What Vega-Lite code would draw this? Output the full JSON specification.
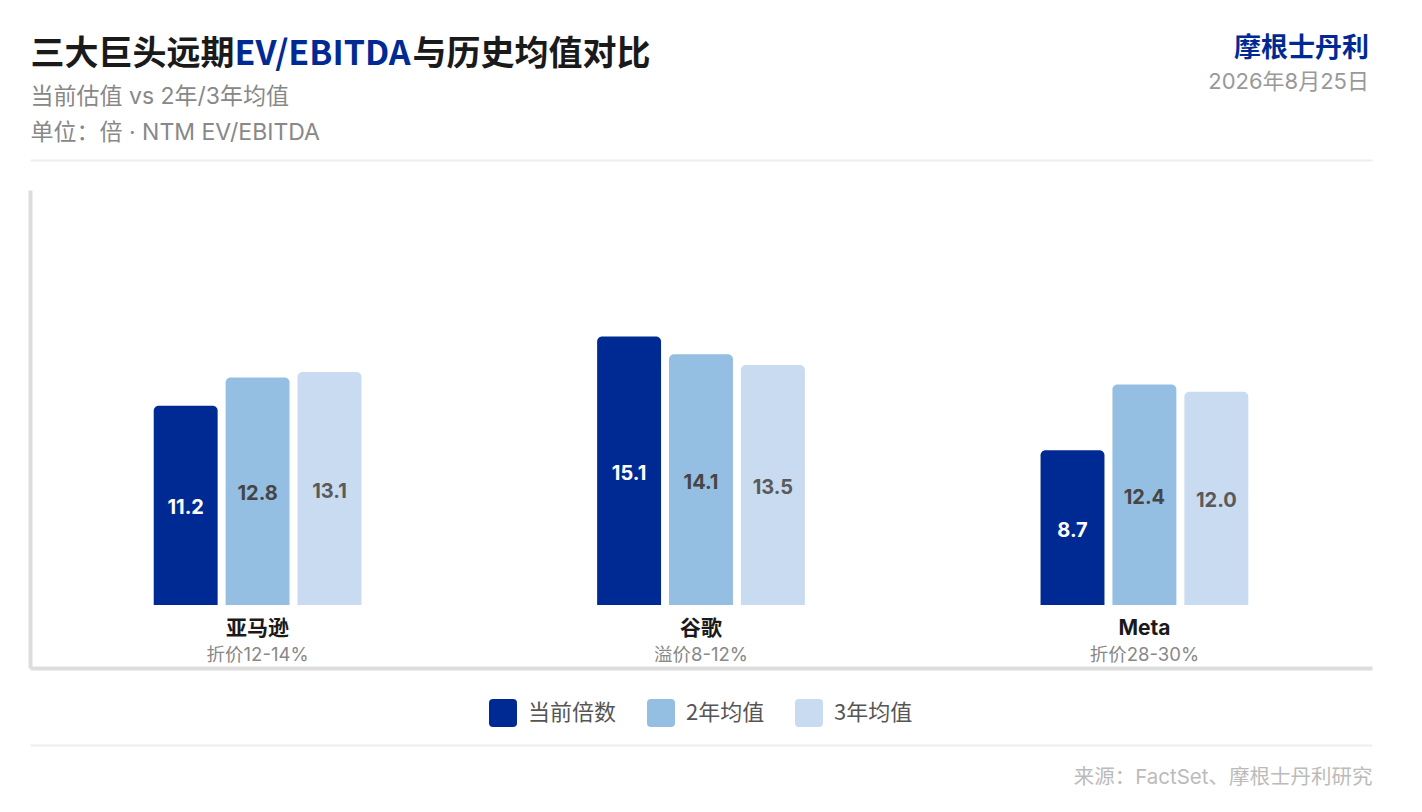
{
  "$schema": "https://vega.github.io/schema/vega-lite/v6.json",
  "width": 1342,
  "height": 478,
  "autosize": "none",
  "padding": {"left": 30, "top": 190, "right": 50, "bottom": 144},
  "background": "#ffffff",
  "config": {
    "font": "Noto Sans CJK SC",
    "view": {"stroke": null},
    "axis": {"ticks": false, "labels": false, "grid": false}
  },
  "title": {
    "text": "摩根士丹利",
    "subtitle": "2026年8月25日",
    "anchor": "end",
    "frame": "group",
    "dx": -3,
    "fontSize": 27,
    "fontWeight": "bold",
    "color": "#002A93",
    "subtitleFont": "Inter, Noto Sans CJK SC",
    "subtitleFontSize": 22,
    "subtitleColor": "#999999",
    "subtitlePadding": 9,
    "offset": -57
  },
  "datasets": {
    "bars": [
      {"company": "亚马逊", "series": "当前倍数", "value": 11.2},
      {"company": "亚马逊", "series": "2年均值", "value": 12.8},
      {"company": "亚马逊", "series": "3年均值", "value": 13.1},
      {"company": "谷歌", "series": "当前倍数", "value": 15.1},
      {"company": "谷歌", "series": "2年均值", "value": 14.1},
      {"company": "谷歌", "series": "3年均值", "value": 13.5},
      {"company": "Meta", "series": "当前倍数", "value": 8.7},
      {"company": "Meta", "series": "2年均值", "value": 12.4},
      {"company": "Meta", "series": "3年均值", "value": 12.0}
    ],
    "companies": [
      {"company": "亚马逊", "note": "折价12-14%"},
      {"company": "谷歌", "note": "溢价8-12%"},
      {"company": "Meta", "note": "折价28-30%"}
    ]
  },
  "layer": [
    {
      "data": {"name": "bars"},
      "mark": {"type": "bar", "cornerRadiusTopLeft": 5, "cornerRadiusTopRight": 5},
      "encoding": {
        "x": {
          "field": "company",
          "type": "nominal",
          "sort": ["亚马逊", "谷歌", "Meta"],
          "scale": {"paddingInner": 0.5315, "paddingOuter": 0.279},
          "axis": {
            "orient": "bottom",
            "domain": true,
            "domainColor": "#dddddd",
            "domainWidth": 4,
            "title": ["当前估值 vs 2年/3年均值", "单位：倍 · NTM EV/EBITDA"],
            "titleX": 0,
            "titleY": -565,
            "titleAlign": "left",
            "titleBaseline": "alphabetic",
            "titleFont": "Inter, Noto Sans CJK SC",
            "titleFontSize": 23,
            "titleFontWeight": "normal",
            "titleColor": "#888888",
            "titleLineHeight": 36
          }
        },
        "xOffset": {
          "field": "series",
          "type": "nominal",
          "sort": ["当前倍数", "2年均值", "3年均值"],
          "scale": {"paddingInner": 0.111, "paddingOuter": 0}
        },
        "y": {
          "field": "value",
          "type": "quantitative",
          "scale": {"domain": [-3.543, 23.34], "nice": false, "zero": false},
          "axis": {
            "orient": "left",
            "domain": true,
            "domainColor": "#dddddd",
            "domainWidth": 4,
            "title": "三大巨头远期",
            "titleX": 0,
            "titleY": -126,
            "titleAngle": 0,
            "titleAlign": "left",
            "titleBaseline": "alphabetic",
            "titleFontSize": 34,
            "titleFontWeight": "bold",
            "titleColor": "#1a1a1a"
          }
        },
        "y2": {"datum": 0},
        "color": {
          "field": "series",
          "type": "nominal",
          "sort": ["当前倍数", "2年均值", "3年均值"],
          "scale": {
            "domain": ["当前倍数", "2年均值", "3年均值"],
            "range": ["#002A93", "#95BFE2", "#C8DBF0"]
          },
          "legend": {
            "title": null,
            "orient": "none",
            "legendX": 459,
            "legendY": 509,
            "direction": "horizontal",
            "padding": 0,
            "symbolType": "M-0.71,-1H0.71Q1,-1,1,-0.71V0.71Q1,1,0.71,1H-0.71Q-1,1,-1,0.71V-0.71Q-1,-1,-0.71,-1Z",
            "symbolSize": 784,
            "symbolStrokeWidth": 0,
            "symbolOpacity": 1,
            "labelFontSize": 22,
            "labelColor": "#555555",
            "labelOffset": 11,
            "columnPadding": 30
          }
        }
      }
    },
    {
      "data": {"name": "bars"},
      "transform": [{"calculate": "datum.value / 2", "as": "mid"}],
      "mark": {"type": "text", "font": "Inter", "fontSize": 20, "fontWeight": "bold", "baseline": "middle", "dy": 3},
      "encoding": {
        "x": {
          "field": "company",
          "type": "nominal",
          "sort": ["亚马逊", "谷歌", "Meta"],
          "axis": {
            "orient": "top",
            "offset": 30,
            "domain": true,
            "domainColor": "#eeeeee",
            "domainWidth": 2,
            "title": "与历史均值对比",
            "titleX": 382,
            "titleY": -96,
            "titleAlign": "left",
            "titleBaseline": "alphabetic",
            "titleFontSize": 34,
            "titleFontWeight": "bold",
            "titleColor": "#1a1a1a"
          }
        },
        "xOffset": {"field": "series", "type": "nominal", "sort": ["当前倍数", "2年均值", "3年均值"]},
        "y": {
          "field": "mid",
          "type": "quantitative",
          "axis": {
            "orient": "right",
            "domain": false,
            "title": "EV/EBITDA",
            "titleX": -1138,
            "titleY": -126,
            "titleAngle": 0,
            "titleAlign": "left",
            "titleBaseline": "alphabetic",
            "titleFontSize": 34,
            "titleFontWeight": "bold",
            "titleColor": "#002A93"
          }
        },
        "text": {"field": "value", "type": "quantitative", "format": ".1f"},
        "color": {
          "condition": [
            {"test": "datum.series === '当前倍数'", "value": "#ffffff"},
            {"test": "datum.series === '2年均值'", "value": "#454545"}
          ],
          "value": "#5a5a5a"
        }
      }
    },
    {
      "data": {"name": "companies"},
      "mark": {"type": "text", "font": "Inter, Noto Sans CJK SC", "fontSize": 21, "fontWeight": "bold", "color": "#1a1a1a", "baseline": "middle", "dy": 24},
      "encoding": {
        "x": {
          "field": "company",
          "type": "nominal",
          "sort": ["亚马逊", "谷歌", "Meta"],
          "axis": {
            "orient": "bottom",
            "offset": 77,
            "domain": true,
            "domainColor": "#eeeeee",
            "domainWidth": 2,
            "title": "来源：FactSet、摩根士丹利研究",
            "titleX": 1342,
            "titleY": 38,
            "titleAlign": "right",
            "titleBaseline": "alphabetic",
            "titleFont": "Inter, Noto Sans CJK SC",
            "titleFontSize": 20.5,
            "titleFontWeight": "normal",
            "titleColor": "#bbbbbb"
          }
        },
        "y": {"datum": 0, "axis": null},
        "text": {"field": "company"}
      }
    },
    {
      "data": {"name": "companies"},
      "mark": {"type": "text", "font": "Inter, Noto Sans CJK SC", "fontSize": 18.5, "color": "#888888", "baseline": "middle", "dy": 50},
      "encoding": {
        "x": {"field": "company", "type": "nominal", "sort": ["亚马逊", "谷歌", "Meta"], "axis": null},
        "y": {"datum": 0, "axis": null},
        "text": {"field": "note"}
      }
    }
  ],
  "resolve": {"axis": {"x": "independent", "y": "independent"}}
}
